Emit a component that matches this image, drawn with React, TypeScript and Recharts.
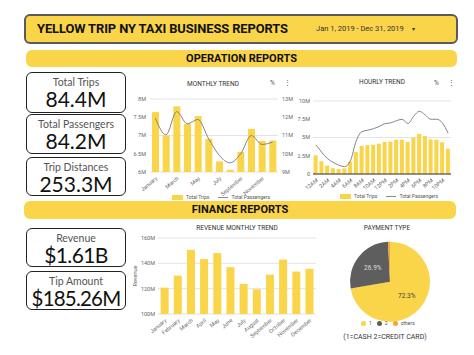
import React from 'react';
import { ComposedChart, BarChart, Bar, Line, XAxis, YAxis, CartesianGrid, PieChart, Pie, Cell } from 'recharts';

const months = ['January', 'February', 'March', 'April', 'May', 'June', 'July', 'August', 'September', 'October', 'November', 'December'];
const monthlyTrips = [7.64, 7.0, 7.8, 7.32, 7.53, 6.91, 6.29, 6.06, 6.55, 7.18, 6.85, 6.86];
const monthlyPassengers = [11.95, 11.04, 12.31, 11.64, 11.88, 10.82, 9.91, 9.5, 10.0, 11.0, 10.51, 10.64];

const hours = ['12AM', '1AM', '2AM', '3AM', '4AM', '5AM', '6AM', '7AM', '8AM', '9AM', '10AM', '11AM', '12PM', '1PM', '2PM', '3PM', '4PM', '5PM', '6PM', '7PM', '8PM', '9PM', '10PM', '11PM'];
const hourlyTrips = [2.55, 1.75, 1.15, 0.8, 0.68, 0.77, 1.7, 3.0, 3.85, 3.95, 4.0, 4.15, 4.4, 4.45, 4.7, 4.7, 4.4, 5.0, 5.5, 5.2, 4.75, 4.7, 4.35, 3.45];
const hourlyPassengers = [4.0, 3.0, 2.1, 1.6, 1.2, 1.0, 1.8, 4.5, 5.8, 6.0, 6.2, 6.5, 6.9, 7.0, 7.3, 7.5, 6.9, 7.9, 8.6, 8.1, 7.5, 7.5, 7.0, 5.6];

const monthlyRevenue = [120.8, 130.3, 150.7, 143.3, 148.1, 137, 123.8, 119.6, 131.1, 143, 133.5, 135.7];

const paymentTypes = ['1', '2', 'others'];
const paymentShares = [72.3, 26.9, 0.8];
const paymentColors = ['#FAD449', '#5E5E5E', '#F3A33A'];

const kpiOps = [
  { label: 'Total Trips', value: '84.4M' },
  { label: 'Total Passengers', value: '84.2M' },
  { label: 'Trip Distances', value: '253.3M' },
];
const kpiFin = [
  { label: 'Revenue', value: '$1.61B' },
  { label: 'Tip Amount', value: '$185.26M' },
];

const YELLOW = '#FAD449';
const monthlyData = months.map((m, i) => ({ name: m, trips: monthlyTrips[i], passengers: monthlyPassengers[i] }));
const hourlyData = hours.map((h, i) => ({ name: h, trips: hourlyTrips[i], passengers: hourlyPassengers[i] }));
const revenueData = months.map((m, i) => ({ name: m, revenue: monthlyRevenue[i] }));
const paymentData = paymentTypes.map((t, i) => ({ name: t, value: paymentShares[i] }));

const tickStyle = { fontSize: 5.5, fill: '#666', fontFamily: 'Roboto' };
const fmtM = (v: number) => `${v}M`;

const abs = (l: number, t: number, w?: number, h?: number): React.CSSProperties => ({ position: 'absolute', left: l, top: t, width: w, height: h });

function Kpi({ top, label, value, h, spacing = 0, size = 21 }: { top: number; label: string; value: string; h: number; spacing?: number; size?: number }) {
  return (
    <div style={{ ...abs(26, top, 100, h), boxSizing: 'border-box', border: '1.3px solid #222', borderRadius: 6, background: '#fff', textAlign: 'center', fontFamily: 'Lato' }}>
      <div style={{ fontSize: 10.5, color: '#555', marginTop: 3, lineHeight: '12px' }}>{label}</div>
      <div style={{ fontSize: size, color: '#111', lineHeight: '22px', marginTop: 0, letterSpacing: spacing, whiteSpace: 'nowrap' }}>{value}</div>
    </div>
  );
}

function Legend2({ left, top }: { left: number; top: number }) {
  return (
    <div style={{ ...abs(left, top), display: 'flex', alignItems: 'center', fontFamily: 'Roboto', fontSize: 5, color: '#555', whiteSpace: 'nowrap' }}>
      <span style={{ display: 'inline-block', width: 11, height: 5, background: YELLOW, marginRight: 3 }} />
      <span>Total Trips</span>
      <span style={{ display: 'inline-block', width: 10, height: 1, background: '#888', marginLeft: 9, marginRight: 3 }} />
      <span>Total Passengers</span>
    </div>
  );
}

function ChartTitle({ cx, top, text }: { cx: number; top: number; text: string }) {
  return (
    <div style={{ ...abs(cx - 60, top, 120), textAlign: 'center', fontFamily: 'Roboto', fontSize: 6.5, color: '#333', lineHeight: '8px' }}>{text}</div>
  );
}

function Icons({ left, top }: { left: number; top: number }) {
  return (
    <div style={{ ...abs(left, top), fontFamily: 'Roboto', fontSize: 6.5, color: '#555', whiteSpace: 'nowrap' }}>
      <span>%</span>
      <span style={{ marginLeft: 9 }}>⋮</span>
    </div>
  );
}

const renderPieLabel = (p: any) => {
  const { cx, cy, midAngle, outerRadius, index, value } = p;
  if (index > 1) return null;
  const r = outerRadius * 0.55;
  const rad = (Math.PI / 180) * midAngle;
  const x = cx + r * Math.cos(rad);
  const y = cy - r * Math.sin(rad);
  return (
    <text x={x} y={y} fill={index === 1 ? '#ddd' : '#444'} fontSize={6.5} fontFamily="Roboto" textAnchor="middle" dominantBaseline="central">
      {`${value}%`}
    </text>
  );
};

export default function App() {
  return (
    <div style={{ position: 'absolute', left: 0, top: 0, width: 474, height: 355, background: '#fff', overflow: 'hidden' }}>
      {/* Header */}
      <div style={{ ...abs(24, 14, 434, 30), boxSizing: 'border-box', background: YELLOW, border: '2px solid #5a5a5a', borderRadius: 6 }} />
      <div style={{ ...abs(37, 21), fontFamily: 'Roboto', fontWeight: 700, fontSize: 12.9, color: '#111', lineHeight: '16px', whiteSpace: 'nowrap', letterSpacing: -0.1 }}>YELLOW TRIP NY TAXI BUSINESS REPORTS</div>
      <div style={{ ...abs(316, 24), fontFamily: 'Roboto', fontSize: 7.5, color: '#333', lineHeight: '10px', whiteSpace: 'nowrap' }}>Jan 1, 2019 - Dec 31, 2019<span style={{ marginLeft: 8, fontSize: 6 }}>▾</span></div>

      {/* Section bars */}
      <div style={{ ...abs(26, 50, 431, 17), background: YELLOW, borderRadius: 6 }} />
      <div style={{ ...abs(26, 52, 431), textAlign: 'center', fontFamily: 'Roboto', fontWeight: 700, fontSize: 11, color: '#111', lineHeight: '13px' }}>OPERATION REPORTS</div>
      <div style={{ ...abs(24, 201, 432, 18), background: YELLOW, borderRadius: 6 }} />
      <div style={{ ...abs(24, 203, 432), textAlign: 'center', fontFamily: 'Roboto', fontWeight: 700, fontSize: 11, color: '#111', lineHeight: '13px' }}>FINANCE REPORTS</div>

      {/* KPIs */}
      <Kpi top={72} h={41} label={kpiOps[0].label} value={kpiOps[0].value} />
      <Kpi top={114} h={40} label={kpiOps[1].label} value={kpiOps[1].value} />
      <Kpi top={157} h={39} label={kpiOps[2].label} value={kpiOps[2].value} />
      <Kpi top={228} h={39} label={kpiFin[0].label} value={kpiFin[0].value} spacing={-0.6} />
      <Kpi top={271} h={39} label={kpiFin[1].label} value={kpiFin[1].value} spacing={-0.8} size={20.5} />

      {/* Monthly trend */}
      <ChartTitle cx={213} top={80} text="MONTHLY TREND" />
      <Icons left={270} top={79} />
      <div style={abs(120, 90)}>
        <ComposedChart width={180} height={115} data={monthlyData} margin={{ top: 9, right: 0, bottom: 0, left: 5 }} barCategoryGap="19%">
          <CartesianGrid vertical={false} stroke="#e3e3e3" yAxisId="l" />
          <XAxis dataKey="name" interval={1} angle={-40} textAnchor="end" height={33} tick={tickStyle} tickLine={false} axisLine={false} tickSize={0} tickMargin={4} />
          <YAxis yAxisId="l" domain={[6, 8]} ticks={[6, 6.5, 7, 7.5, 8]} tickFormatter={fmtM} width={25} tick={tickStyle} tickLine={false} axisLine={false} tickSize={0} tickMargin={4} allowDataOverflow />
          <YAxis yAxisId="r" orientation="right" domain={[9, 13]} ticks={[9, 10, 11, 12, 13]} tickFormatter={fmtM} width={22} tick={tickStyle} tickLine={false} axisLine={false} tickSize={0} tickMargin={4} allowDataOverflow />
          <Bar yAxisId="l" dataKey="trips" fill={YELLOW} isAnimationActive={false} />
          <Line yAxisId="r" dataKey="passengers" type="monotone" stroke="#858585" strokeWidth={1} dot={false} isAnimationActive={false} />
        </ComposedChart>
      </div>
      <Legend2 left={172} top={194} />

      {/* Hourly trend */}
      <ChartTitle cx={382} top={78} text="HOURLY TREND" />
      <Icons left={434} top={79} />
      <div style={abs(290, 90)}>
        <ComposedChart width={165} height={116} data={hourlyData} margin={{ top: 11, right: 4, bottom: 0, left: 3 }} barCategoryGap="11%">
          <CartesianGrid vertical={false} stroke="#e3e3e3" />
          <XAxis dataKey="name" interval={1} angle={-40} textAnchor="end" height={32} tick={tickStyle} tickLine={false} axisLine={{ stroke: '#333' }} tickSize={0} tickMargin={4} />
          <YAxis domain={[0, 10]} ticks={[0, 2.5, 5, 7.5, 10]} tickFormatter={(v: number) => (v === 0 ? '0' : `${v}M`)} width={20} tick={tickStyle} tickLine={false} axisLine={false} tickSize={0} tickMargin={3} />
          <Bar dataKey="trips" fill={YELLOW} isAnimationActive={false} />
          <Line dataKey="passengers" type="monotone" stroke="#858585" strokeWidth={1} dot={false} isAnimationActive={false} />
        </ComposedChart>
      </div>
      <Legend2 left={340} top={193} />

      {/* Revenue monthly trend */}
      <ChartTitle cx={237} top={224} text="REVENUE MONTHLY TREND" />
      <div style={abs(125, 228)}>
        <BarChart width={195} height={118} data={revenueData} margin={{ top: 10, right: 4, bottom: 0, left: 0 }} barCategoryGap="20%">
          <CartesianGrid vertical={false} stroke="#e3e3e3" />
          <XAxis dataKey="name" interval={0} angle={-40} textAnchor="end" height={32} tick={tickStyle} tickLine={false} axisLine={false} tickSize={0} tickMargin={4} />
          <YAxis domain={[100, 160]} ticks={[100, 120, 140, 160]} tickFormatter={fmtM} width={33} tick={tickStyle} tickLine={false} axisLine={false} tickSize={0} tickMargin={3} allowDataOverflow
            label={{ value: 'Revenue', angle: -90, position: 'insideLeft', offset: 10, style: { fontSize: 5.5, fill: '#666', fontFamily: 'Roboto', textAnchor: 'middle' } }} />
          <Bar dataKey="revenue" fill={YELLOW} isAnimationActive={false} />
        </BarChart>
      </div>

      {/* Payment type */}
      <ChartTitle cx={387} top={224} text="PAYMENT TYPE" />
      <div style={abs(335, 230)}>
        <PieChart width={100} height={94}>
          <Pie data={paymentData} dataKey="value" nameKey="name" cx={50} cy={46.7} outerRadius={40} startAngle={90} endAngle={-270} stroke="none" label={renderPieLabel} labelLine={false} isAnimationActive={false}>
            {paymentData.map((d, i) => (
              <Cell key={d.name} fill={paymentColors[i]} />
            ))}
          </Pie>
        </PieChart>
      </div>
      <div style={{ ...abs(361, 320), display: 'flex', alignItems: 'center', fontFamily: 'Roboto', fontSize: 5, color: '#555', whiteSpace: 'nowrap' }}>
        {paymentTypes.map((t, i) => (
          <span key={t} style={{ display: 'inline-flex', alignItems: 'center', marginRight: 5 }}>
            <span style={{ display: 'inline-block', width: 5, height: 5, borderRadius: 3, background: paymentColors[i], marginRight: 3 }} />
            {t}
          </span>
        ))}
      </div>
      <div style={{ ...abs(325, 333, 120), textAlign: 'center', fontFamily: 'Roboto', fontSize: 7, color: '#333', lineHeight: '9px' }}>(1=CASH 2=CREDIT CARD)</div>
    </div>
  );
}
